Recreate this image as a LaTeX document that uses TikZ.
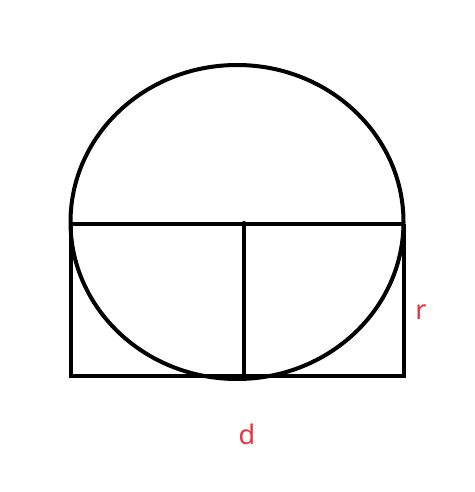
\documentclass[tikz,border=0pt]{standalone}
\usepackage{fontspec}
\setmainfont{Noto Sans}
\usetikzlibrary{positioning}
\definecolor{labelred}{RGB}{232,52,64}

\begin{document}
\begin{tikzpicture}[
        x=1pt, y=-1pt,
        every path/.style={line width=4pt},
        lbl/.style={text=labelred, font=\fontsize{27}{30}\selectfont, inner sep=0pt}
    ]
  \useasboundingbox (0,0) rectangle (474,492);

  % Points
  \coordinate (left) at (71,224);
  \coordinate (right) at (404,224);
  \coordinate (mid) at (244,224);
  \coordinate (bl) at (71,376);
  \coordinate (br) at (404,376);
  \coordinate (foot) at (244,379);

  % Circle and frame
  \draw (237,222) ellipse [x radius=166.5, y radius=157];
  \draw (left) -- (right);
  \draw (left) -- (bl) -- (br) -- (right);
  \draw (mid) -- (foot);
  \fill (mid) circle (3);

  % Labels
  \node[lbl] (r) at (421,312) {r};
  \node[lbl] (d) at (247,434) {d};
\end{tikzpicture}
\end{document}
